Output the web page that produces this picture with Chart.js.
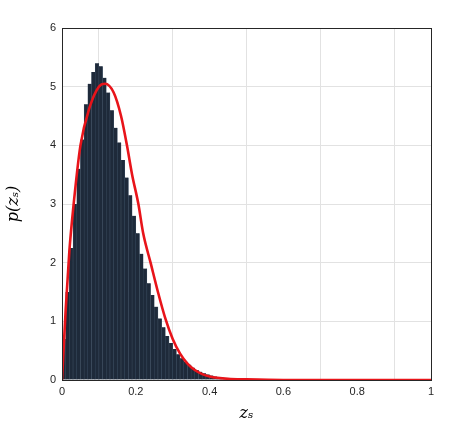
<!DOCTYPE html>
<html><head><meta charset="utf-8">
<script src="https://cdn.jsdelivr.net/npm/chart.js@4"></script>
<style>html,body{margin:0;background:#fff}#wrap{width:474px;height:427px}</style>
</head><body><div id="wrap"><canvas id="c"></canvas></div>
<script>
// histogram bins (centres, width 0.01)
const binCenters = [0.005,0.015,0.025,0.035,0.045,0.055,0.065,0.075,0.085,0.095,0.105,0.115,0.125,0.135,0.145,0.155,0.165,0.175,0.185,0.195,0.205,0.215,0.225,0.235,0.245,0.255,0.265,0.275,0.285,0.295,0.305,0.315,0.325,0.335,0.345,0.355,0.365,0.375,0.385,0.395,0.405,0.415,0.425,0.435,0.445,0.455,0.465,0.475,0.485,0.495,0.505,0.515,0.525,0.535,0.545,0.555,0.565,0.575,0.585,0.595];
const binHeights = [0.7,1.5,2.25,3.0,3.6,4.1,4.7,5.05,5.25,5.4,5.35,5.15,4.9,4.6,4.3,4.05,3.75,3.45,3.15,2.8,2.5,2.15,1.9,1.65,1.45,1.25,1.05,0.9,0.75,0.63,0.53,0.44,0.37,0.31,0.26,0.21,0.17,0.14,0.115,0.095,0.075,0.06,0.05,0.04,0.032,0.026,0.021,0.017,0.014,0.011,0.009,0.008,0.007,0.006,0.005,0.004,0.004,0.003,0.003,0.002];
// fitted pdf
const fitX = [0,0.01,0.02,0.03,0.05,0.075,0.1,0.117,0.14,0.16,0.176,0.19,0.207,0.22,0.24,0.26,0.28,0.3,0.32,0.34,0.36,0.38,0.4,0.45,0.5,0.6,0.8,1];
const fitY = [0,1.2,2.2,2.9,4.0,4.65,5.0,5.05,4.9,4.5,4.0,3.5,3.0,2.5,2.0,1.5,1.05,0.7,0.45,0.28,0.17,0.1,0.06,0.02,0.01,0,0,0];
const xTicks = [0,0.2,0.4,0.6,0.8,1];

const frame = {
  id: "frame",
  afterDraw(ch){
    const a = ch.chartArea, g = ch.ctx;
    g.save(); g.strokeStyle = "#262626"; g.lineWidth = 1;
    g.strokeRect(a.left+0.5, a.top+0.5, a.right-a.left, a.bottom-a.top);
    g.restore();
  }
};

new Chart(document.getElementById("c"), {
  data: {
    datasets: [
      { type: "bar", data: binCenters.map((x,i)=>({x, y: binHeights[i]})),
        backgroundColor: "#1e2a3a", borderColor: "#3c4e62", borderWidth: {left:0.5,right:0.5,top:0,bottom:0},
        barPercentage: 1, categoryPercentage: 1, order: 2 },
      { type: "line", data: fitX.map((x,i)=>({x, y: fitY[i]})),
        borderColor: "#e8141a", borderWidth: 2.6, pointRadius: 0, tension: 0.4, cubicInterpolationMode: "monotone", order: 1 }
    ]
  },
  options: {
    responsive: true, maintainAspectRatio: false, animation: false,
    layout: { padding: { top: 28, right: 43, left: 0, bottom: 0 } },
    plugins: { legend: { display: false }, tooltip: { enabled: false } },
    scales: {
      x: { type: "linear", min: 0, max: 1, offset: false,
        afterBuildTicks: s => { s.ticks = xTicks.map(v=>({value:v})); },
        afterFit: s => { s.height = 47; },
        grid: { color: "#e2e2e2", drawTicks: false },
        border: { display: false },
        ticks: { color: "#262626", font: { family: "Liberation Sans", size: 11 }, padding: 5,
          callback: v => String(v) },
        title: { display: true, text: "zₛ", color: "#000", font: { family: "DejaVu Serif", style: "italic", size: 16 }, padding: { top: 0 } } },
      y: { min: 0, max: 6,
        afterFit: s => { s.width = 62; },
        grid: { color: "#e2e2e2", drawTicks: false },
        border: { display: false },
        ticks: { stepSize: 1, color: "#262626", font: { family: "Liberation Sans", size: 11 }, padding: 6 },
        title: { display: true, text: "p(zₛ)", color: "#000", font: { family: "DejaVu Serif", style: "italic", size: 16 }, padding: { bottom: 4 } } }
    }
  },
  plugins: [frame]
});
</script></body></html>
